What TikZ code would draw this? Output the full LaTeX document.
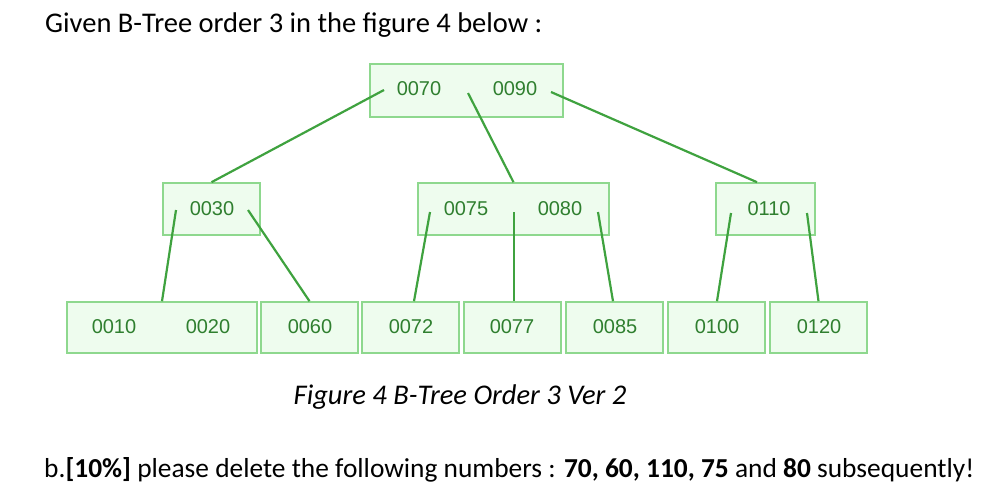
\documentclass[tikz,border=0pt]{standalone}
\usepackage{fontspec}
\setmainfont{Carlito}
\newfontfamily\arialf{Liberation Sans}
\definecolor{bfill}{HTML}{EEFCEE}
\definecolor{bdraw}{HTML}{8ED88E}
\definecolor{btext}{HTML}{2F7F2F}
\definecolor{bline}{HTML}{3FA23F}
\begin{document}
\begin{tikzpicture}[x=1pt,y=-1pt,
  bx/.style={draw=bdraw,fill=bfill,line width=1.6pt,inner sep=0pt},
  key/.style={font=\arialf\fontsize{20}{22}\selectfont,text=btext,inner sep=0pt},
  ln/.style={draw=bline,line width=2.2pt}]
\useasboundingbox (0,0) rectangle (999,493);
\node[anchor=west,inner sep=0pt,font=\fontsize{28.5}{32}\selectfont] (title) at (45,25) {Given B-Tree order 3 in the figure 4 below :};
% boxes
\node[bx,minimum width=193,minimum height=53] (root) at (466.5,90.5) {};
\node[bx,minimum width=97,minimum height=52] (n30) at (211.5,209) {};
\node[bx,minimum width=191,minimum height=52] (nm) at (513.5,209) {};
\node[bx,minimum width=99,minimum height=52] (n110) at (765.5,209) {};
\node[bx,minimum width=190,minimum height=51] (l1) at (162,327.5) {};
\node[bx,minimum width=97,minimum height=51] (l2) at (309.5,327.5) {};
\node[bx,minimum width=97,minimum height=51] (l3) at (410.5,327.5) {};
\node[bx,minimum width=97,minimum height=51] (l4) at (512.5,327.5) {};
\node[bx,minimum width=97,minimum height=51] (l5) at (614.5,327.5) {};
\node[bx,minimum width=97,minimum height=51] (l6) at (716.5,327.5) {};
\node[bx,minimum width=97,minimum height=51] (l7) at (818.5,327.5) {};
% keys
\node[key] (k70) at (419,89) {0070};
\node[key] (k90) at (515,89) {0090};
\node[key] (k30) at (212,209) {0030};
\node[key] (k75) at (466,209) {0075};
\node[key] (k80) at (560,209) {0080};
\node[key] (k110) at (769,209) {0110};
\node[key] (k10) at (114,327) {0010};
\node[key] (k20) at (208,327) {0020};
\node[key] (k60) at (310,327) {0060};
\node[key] (k72) at (411,327) {0072};
\node[key] (k77) at (512,327) {0077};
\node[key] (k85) at (615,327) {0085};
\node[key] (k100) at (717,327) {0100};
\node[key] (k120) at (819,327) {0120};
% connector anchors
\coordinate (r0) at (384,90); \coordinate (r1) at (468,93); \coordinate (r2) at (551,92);
\coordinate (a0) at (176,210); \coordinate (a1) at (248,210);
\coordinate (m0) at (430,212); \coordinate (m1) at (514,212); \coordinate (m2) at (598,212);
\coordinate (c0) at (731,213); \coordinate (c1) at (807,213);
\draw[ln] (r0) -- (n30.north); \draw[ln] (r1) -- (nm.north); \draw[ln] (r2) -- (n110.north -| 757,0);
\draw[ln] (a0) -- (l1.north); \draw[ln] (a1) -- (l2.north);
\draw[ln] (m0) -- (l3.north -| 414,0); \draw[ln] (m1) -- (l4.north -| 514,0); \draw[ln] (m2) -- (l5.north -| 613,0);
\draw[ln] (c0) -- (l6.north -| 717,0); \draw[ln] (c1) -- (l7.north);
\node[inner sep=0pt,font=\itshape\fontsize{28.5}{32}\selectfont] (cap) at (460,397) {Figure 4 B-Tree Order 3 Ver 2};
\node[anchor=west,inner sep=0pt,font=\fontsize{28.5}{32}\selectfont] (q) at (44,470) {\resizebox{930pt}{!}{b.\textbf{[10\%]} please delete the following numbers : \textbf{70, 60, 110, 75} and \textbf{80} subsequently!}};
\end{tikzpicture}
\end{document}
